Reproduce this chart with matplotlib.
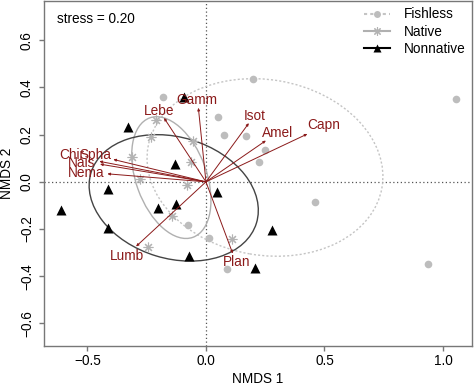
import matplotlib
matplotlib.use('Agg')
import matplotlib.pyplot as plt
from matplotlib.patches import Ellipse
from matplotlib.lines import Line2D

plt.rcParams['font.family'] = ['Liberation Sans', 'DejaVu Sans']

# site scores
fishless_x = [-0.180, 0.198, 1.054, 0.052, 0.075, 0.167, 0.250, 0.225, 0.459, -0.077, 0.011, 0.087, 0.935]
fishless_y = [0.358, 0.436, 0.352, 0.275, 0.197, 0.195, 0.136, 0.085, -0.087, -0.185, -0.237, -0.369, -0.350]

native_x = [-0.211, -0.231, -0.055, -0.314, -0.062, -0.278, -0.080, -0.142, -0.245, 0.108]
native_y = [0.261, 0.192, 0.172, 0.106, 0.082, 0.014, -0.014, -0.145, -0.277, -0.244]

nonnative_x = [-0.093, -0.330, -0.131, -0.412, 0.045, -0.613, -0.204, -0.128, -0.412, 0.277, -0.073, 0.208]
nonnative_y = [0.360, 0.233, 0.075, -0.030, -0.044, -0.120, -0.109, -0.096, -0.195, -0.206, -0.313, -0.367]

# group ellipses: centre x, centre y, width, height, angle
ell_fishless = [0.249, 0.061, 1.002, 0.744, -9.9]
ell_native = [-0.146, 0.018, 0.538, 0.298, -70.2]
ell_nonnative = [-0.136, -0.068, 0.730, 0.514, -17.1]

# species vectors
species = ['Gamm', 'Lebe', 'Isot', 'Amel', 'Capn', 'Chir', 'Spha', 'Nais', 'Nema', 'Lumb', 'Plan']
vec_x = [-0.032, -0.177, 0.181, 0.253, 0.428, -0.450, -0.391, -0.447, -0.416, -0.295, 0.113]
vec_y = [0.314, 0.271, 0.249, 0.175, 0.203, 0.087, 0.095, 0.075, 0.034, -0.274, -0.304]
lab_x = [-0.037, -0.196, 0.205, 0.303, 0.495, -0.567, -0.468, -0.525, -0.507, -0.335, 0.130]
lab_y = [0.346, 0.301, 0.280, 0.205, 0.239, 0.113, 0.113, 0.078, 0.036, -0.315, -0.340]

stress = 0.20

fig = plt.figure(figsize=(4.74, 3.86), dpi=100)
ax = fig.add_axes([0.0935, 0.1036, 0.9015, 0.8934])

ax.axhline(0, color='#555555', ls=(0, (1, 2)), lw=0.9, zorder=1)
ax.axvline(0, color='#555555', ls=(0, (1, 2)), lw=0.9, zorder=1)

for e, col, ls in [(ell_fishless, '#c4c4c4', (0, (1.5, 1.5))),
                   (ell_native, '#b0b0b0', '-'),
                   (ell_nonnative, '#444444', '-')]:
    ax.add_patch(Ellipse((e[0], e[1]), e[2], e[3], angle=e[4], fill=False,
                         ec=col, ls=ls, lw=1.0, zorder=2))

ax.plot(fishless_x, fishless_y, 'o', color='#bdbdbd', ms=5.5, mec='none', zorder=3)
ax.plot(native_x, native_y, ls='none', marker=(8, 2, 0), color='#b3b3b3', ms=7, mew=0.8, zorder=3)
ax.plot(nonnative_x, nonnative_y, '^', color='black', ms=6.5, mec='none', zorder=3)

for i in range(len(species)):
    ax.annotate('', xy=(vec_x[i], vec_y[i]), xytext=(0, 0),
                arrowprops=dict(arrowstyle='-|>,head_length=0.15,head_width=0.07',
                                color='#8b1a1a', lw=0.7, shrinkA=0, shrinkB=0), zorder=4)
    ax.text(lab_x[i], lab_y[i], species[i], color='#8b1a1a', fontsize=9.8,
            ha='center', va='center', zorder=5)

ax.text(-0.63, 0.69, 'stress = %.2f' % stress, fontsize=9.8, ha='left', va='center')

handles = [Line2D([], [], color='#c4c4c4', ls=(0, (1.5, 1.5)), marker='o', mfc='#bdbdbd', mec='none', ms=5),
           Line2D([], [], color='#b0b0b0', ls='-', marker=(8, 2, 0), mec='#b3b3b3', ms=6, mew=0.8),
           Line2D([], [], color='black', ls='-', marker='^', mfc='black', mec='none', ms=6)]
ax.legend(handles, ['Fishless', 'Native', 'Nonnative'], loc='upper right', frameon=False,
          fontsize=9.8, handlelength=1.9, handletextpad=1.0, labelspacing=0.25,
          borderaxespad=0.15, borderpad=0.3)

ax.set_xlim(-0.682, 1.121)
ax.set_ylim(-0.696, 0.766)
ax.set_xticks([-0.5, 0.0, 0.5, 1.0])
ax.set_yticks([-0.6, -0.4, -0.2, 0.0, 0.2, 0.4, 0.6])
ax.set_xticklabels(['\u22120.5', '0.0', '0.5', '1.0'])
ax.set_yticklabels(['\u22120.6', '\u22120.4', '\u22120.2', '0.0', '0.2', '0.4', '0.6'],
                   rotation=90, va='center')
for sp in ax.spines.values():
    sp.set_color('#777777')
    sp.set_linewidth(1.0)
ax.tick_params(colors='#777777', labelcolor='black', labelsize=9.8, length=3.5, width=1.0)
ax.tick_params(axis='x', pad=2)
ax.tick_params(axis='y', pad=4)
ax.set_xlabel('NMDS 1', fontsize=9.8, labelpad=3)
ax.set_ylabel('NMDS 2', fontsize=9.8, labelpad=4)

fig.savefig('out.png', dpi=100)
